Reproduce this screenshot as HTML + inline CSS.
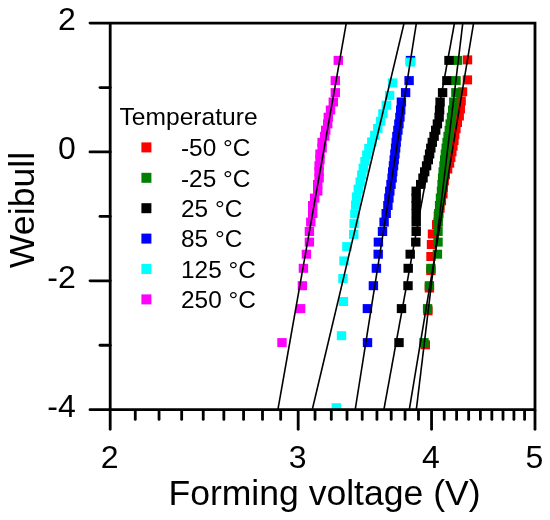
<!DOCTYPE html><html><head><meta charset="utf-8"><title>Weibull plot</title>
<style>html,body{margin:0;padding:0;background:#fff}svg{display:block}text{font-family:"Liberation Sans",sans-serif;fill:#000}</style></head><body>
<svg width="550" height="520" viewBox="0 0 550 520">
<rect width="550" height="520" fill="#fff"/>
<defs><clipPath id="c"><rect x="110.2" y="23.1" width="424.8" height="386.6"/></clipPath></defs>
<g clip-path="url(#c)" shape-rendering="auto">
<g fill="#ff0000">
<rect x="420.6" y="340.3" width="9.4" height="9.0"/>
<rect x="423.2" y="306.3" width="9.4" height="9.0"/>
<rect x="424.7" y="283.5" width="9.4" height="9.0"/>
<rect x="426.2" y="266.1" width="9.4" height="9.0"/>
<rect x="426.3" y="252.0" width="9.4" height="9.0"/>
<rect x="426.8" y="240.0" width="9.4" height="9.0"/>
<rect x="427.8" y="229.5" width="9.4" height="9.0"/>
<rect x="432.0" y="220.1" width="9.4" height="9.0"/>
<rect x="433.7" y="211.5" width="9.4" height="9.0"/>
<rect x="435.2" y="203.7" width="9.4" height="9.0"/>
<rect x="436.7" y="196.3" width="9.4" height="9.0"/>
<rect x="438.2" y="189.4" width="9.4" height="9.0"/>
<rect x="438.6" y="182.8" width="9.4" height="9.0"/>
<rect x="439.5" y="176.5" width="9.4" height="9.0"/>
<rect x="440.6" y="170.4" width="9.4" height="9.0"/>
<rect x="442.9" y="164.5" width="9.4" height="9.0"/>
<rect x="444.8" y="158.7" width="9.4" height="9.0"/>
<rect x="446.0" y="153.0" width="9.4" height="9.0"/>
<rect x="447.1" y="147.3" width="9.4" height="9.0"/>
<rect x="448.2" y="141.7" width="9.4" height="9.0"/>
<rect x="449.2" y="136.0" width="9.4" height="9.0"/>
<rect x="450.0" y="130.2" width="9.4" height="9.0"/>
<rect x="451.2" y="124.2" width="9.4" height="9.0"/>
<rect x="452.6" y="118.0" width="9.4" height="9.0"/>
<rect x="454.5" y="111.5" width="9.4" height="9.0"/>
<rect x="455.6" y="104.4" width="9.4" height="9.0"/>
<rect x="456.4" y="96.5" width="9.4" height="9.0"/>
<rect x="457.8" y="87.3" width="9.4" height="9.0"/>
<rect x="462.7" y="75.4" width="9.4" height="9.0"/>
<rect x="462.8" y="55.4" width="9.4" height="9.0"/>
</g>
<g fill="#008000">
<rect x="419.3" y="338.1" width="9.4" height="9.0"/>
<rect x="422.9" y="304.1" width="9.4" height="9.0"/>
<rect x="424.7" y="281.2" width="9.4" height="9.0"/>
<rect x="426.2" y="263.8" width="9.4" height="9.0"/>
<rect x="432.7" y="249.7" width="9.4" height="9.0"/>
<rect x="433.3" y="237.6" width="9.4" height="9.0"/>
<rect x="433.3" y="227.0" width="9.4" height="9.0"/>
<rect x="433.5" y="217.6" width="9.4" height="9.0"/>
<rect x="434.1" y="209.0" width="9.4" height="9.0"/>
<rect x="434.9" y="201.0" width="9.4" height="9.0"/>
<rect x="435.8" y="193.6" width="9.4" height="9.0"/>
<rect x="436.8" y="186.6" width="9.4" height="9.0"/>
<rect x="437.4" y="179.9" width="9.4" height="9.0"/>
<rect x="437.9" y="173.5" width="9.4" height="9.0"/>
<rect x="438.5" y="167.3" width="9.4" height="9.0"/>
<rect x="439.3" y="161.3" width="9.4" height="9.0"/>
<rect x="440.0" y="155.3" width="9.4" height="9.0"/>
<rect x="440.7" y="149.5" width="9.4" height="9.0"/>
<rect x="441.5" y="143.6" width="9.4" height="9.0"/>
<rect x="442.4" y="137.8" width="9.4" height="9.0"/>
<rect x="443.4" y="131.8" width="9.4" height="9.0"/>
<rect x="444.6" y="125.7" width="9.4" height="9.0"/>
<rect x="445.5" y="119.4" width="9.4" height="9.0"/>
<rect x="446.8" y="112.7" width="9.4" height="9.0"/>
<rect x="448.0" y="105.5" width="9.4" height="9.0"/>
<rect x="449.1" y="97.5" width="9.4" height="9.0"/>
<rect x="451.2" y="88.1" width="9.4" height="9.0"/>
<rect x="451.3" y="76.1" width="9.4" height="9.0"/>
<rect x="452.8" y="55.9" width="9.4" height="9.0"/>
</g>
<g fill="#000000">
<rect x="394.3" y="338.1" width="9.4" height="9.0"/>
<rect x="396.8" y="304.1" width="9.4" height="9.0"/>
<rect x="403.3" y="281.2" width="9.4" height="9.0"/>
<rect x="403.5" y="263.8" width="9.4" height="9.0"/>
<rect x="405.5" y="249.7" width="9.4" height="9.0"/>
<rect x="411.1" y="237.6" width="9.4" height="9.0"/>
<rect x="411.5" y="227.0" width="9.4" height="9.0"/>
<rect x="411.5" y="217.6" width="9.4" height="9.0"/>
<rect x="411.5" y="209.0" width="9.4" height="9.0"/>
<rect x="411.5" y="201.0" width="9.4" height="9.0"/>
<rect x="411.5" y="193.6" width="9.4" height="9.0"/>
<rect x="411.5" y="186.6" width="9.4" height="9.0"/>
<rect x="416.0" y="179.9" width="9.4" height="9.0"/>
<rect x="418.3" y="173.5" width="9.4" height="9.0"/>
<rect x="420.0" y="167.3" width="9.4" height="9.0"/>
<rect x="421.9" y="161.3" width="9.4" height="9.0"/>
<rect x="423.6" y="155.3" width="9.4" height="9.0"/>
<rect x="424.9" y="149.5" width="9.4" height="9.0"/>
<rect x="426.1" y="143.6" width="9.4" height="9.0"/>
<rect x="427.6" y="137.8" width="9.4" height="9.0"/>
<rect x="429.4" y="131.8" width="9.4" height="9.0"/>
<rect x="431.0" y="125.7" width="9.4" height="9.0"/>
<rect x="432.7" y="119.4" width="9.4" height="9.0"/>
<rect x="434.4" y="112.7" width="9.4" height="9.0"/>
<rect x="434.9" y="105.5" width="9.4" height="9.0"/>
<rect x="435.4" y="97.5" width="9.4" height="9.0"/>
<rect x="437.9" y="88.1" width="9.4" height="9.0"/>
<rect x="442.2" y="76.1" width="9.4" height="9.0"/>
<rect x="444.3" y="55.9" width="9.4" height="9.0"/>
</g>
<g fill="#0000ff">
<rect x="362.8" y="338.1" width="9.4" height="9.0"/>
<rect x="362.7" y="304.1" width="9.4" height="9.0"/>
<rect x="368.7" y="281.2" width="9.4" height="9.0"/>
<rect x="371.7" y="263.8" width="9.4" height="9.0"/>
<rect x="373.5" y="249.7" width="9.4" height="9.0"/>
<rect x="373.7" y="237.6" width="9.4" height="9.0"/>
<rect x="377.8" y="227.0" width="9.4" height="9.0"/>
<rect x="379.4" y="217.6" width="9.4" height="9.0"/>
<rect x="381.5" y="209.0" width="9.4" height="9.0"/>
<rect x="383.2" y="201.0" width="9.4" height="9.0"/>
<rect x="384.2" y="193.6" width="9.4" height="9.0"/>
<rect x="385.1" y="186.6" width="9.4" height="9.0"/>
<rect x="386.3" y="179.9" width="9.4" height="9.0"/>
<rect x="387.4" y="173.5" width="9.4" height="9.0"/>
<rect x="388.0" y="167.3" width="9.4" height="9.0"/>
<rect x="388.8" y="161.3" width="9.4" height="9.0"/>
<rect x="389.5" y="155.3" width="9.4" height="9.0"/>
<rect x="390.2" y="149.5" width="9.4" height="9.0"/>
<rect x="390.9" y="143.6" width="9.4" height="9.0"/>
<rect x="391.5" y="137.8" width="9.4" height="9.0"/>
<rect x="392.2" y="131.8" width="9.4" height="9.0"/>
<rect x="393.2" y="125.7" width="9.4" height="9.0"/>
<rect x="394.2" y="119.4" width="9.4" height="9.0"/>
<rect x="395.2" y="112.7" width="9.4" height="9.0"/>
<rect x="396.0" y="105.5" width="9.4" height="9.0"/>
<rect x="396.7" y="97.5" width="9.4" height="9.0"/>
<rect x="400.9" y="88.1" width="9.4" height="9.0"/>
<rect x="404.4" y="76.1" width="9.4" height="9.0"/>
<rect x="405.8" y="55.9" width="9.4" height="9.0"/>
</g>
<g fill="#00ffff">
<rect x="331.6" y="403.2" width="9.4" height="9.0"/>
<rect x="336.8" y="331.2" width="9.4" height="9.0"/>
<rect x="338.7" y="297.0" width="9.4" height="9.0"/>
<rect x="338.3" y="274.0" width="9.4" height="9.0"/>
<rect x="339.3" y="256.4" width="9.4" height="9.0"/>
<rect x="342.2" y="242.1" width="9.4" height="9.0"/>
<rect x="349.0" y="229.9" width="9.4" height="9.0"/>
<rect x="349.4" y="219.1" width="9.4" height="9.0"/>
<rect x="350.2" y="209.4" width="9.4" height="9.0"/>
<rect x="351.0" y="200.6" width="9.4" height="9.0"/>
<rect x="351.9" y="192.4" width="9.4" height="9.0"/>
<rect x="353.6" y="184.7" width="9.4" height="9.0"/>
<rect x="355.5" y="177.4" width="9.4" height="9.0"/>
<rect x="357.1" y="170.4" width="9.4" height="9.0"/>
<rect x="358.6" y="163.6" width="9.4" height="9.0"/>
<rect x="360.3" y="157.0" width="9.4" height="9.0"/>
<rect x="362.1" y="150.4" width="9.4" height="9.0"/>
<rect x="364.2" y="144.0" width="9.4" height="9.0"/>
<rect x="367.1" y="137.4" width="9.4" height="9.0"/>
<rect x="370.1" y="130.8" width="9.4" height="9.0"/>
<rect x="373.1" y="124.0" width="9.4" height="9.0"/>
<rect x="375.9" y="116.8" width="9.4" height="9.0"/>
<rect x="378.2" y="109.2" width="9.4" height="9.0"/>
<rect x="381.6" y="100.7" width="9.4" height="9.0"/>
<rect x="384.9" y="90.9" width="9.4" height="9.0"/>
<rect x="387.9" y="78.4" width="9.4" height="9.0"/>
<rect x="405.6" y="57.6" width="9.4" height="9.0"/>
</g>
<g fill="#ff00ff">
<rect x="277.3" y="338.1" width="9.4" height="9.0"/>
<rect x="295.9" y="304.1" width="9.4" height="9.0"/>
<rect x="297.7" y="281.2" width="9.4" height="9.0"/>
<rect x="298.7" y="263.8" width="9.4" height="9.0"/>
<rect x="301.7" y="249.7" width="9.4" height="9.0"/>
<rect x="304.7" y="237.6" width="9.4" height="9.0"/>
<rect x="304.7" y="227.0" width="9.4" height="9.0"/>
<rect x="306.1" y="217.6" width="9.4" height="9.0"/>
<rect x="308.0" y="209.0" width="9.4" height="9.0"/>
<rect x="308.0" y="201.0" width="9.4" height="9.0"/>
<rect x="310.0" y="193.6" width="9.4" height="9.0"/>
<rect x="313.0" y="186.6" width="9.4" height="9.0"/>
<rect x="313.0" y="179.9" width="9.4" height="9.0"/>
<rect x="314.4" y="173.5" width="9.4" height="9.0"/>
<rect x="314.4" y="167.3" width="9.4" height="9.0"/>
<rect x="314.4" y="161.3" width="9.4" height="9.0"/>
<rect x="315.3" y="155.3" width="9.4" height="9.0"/>
<rect x="315.3" y="149.5" width="9.4" height="9.0"/>
<rect x="317.4" y="143.6" width="9.4" height="9.0"/>
<rect x="317.4" y="137.8" width="9.4" height="9.0"/>
<rect x="320.0" y="131.8" width="9.4" height="9.0"/>
<rect x="321.0" y="125.7" width="9.4" height="9.0"/>
<rect x="323.0" y="119.4" width="9.4" height="9.0"/>
<rect x="323.6" y="112.7" width="9.4" height="9.0"/>
<rect x="325.8" y="105.5" width="9.4" height="9.0"/>
<rect x="328.6" y="97.5" width="9.4" height="9.0"/>
<rect x="330.6" y="88.1" width="9.4" height="9.0"/>
<rect x="330.6" y="76.1" width="9.4" height="9.0"/>
<rect x="333.6" y="55.9" width="9.4" height="9.0"/>
</g>
<g stroke="#000" stroke-width="1.6" fill="none">
<line x1="277.47" y1="412.0" x2="346.83" y2="20.0"/>
<line x1="311.69" y1="412.0" x2="404.81" y2="20.0"/>
<line x1="354.83" y1="412.0" x2="416.87" y2="20.0"/>
<line x1="383.45" y1="412.0" x2="455.05" y2="20.0"/>
<line x1="408.90" y1="412.0" x2="474.10" y2="20.0"/>
<line x1="416.04" y1="412.0" x2="463.16" y2="20.0"/>
</g></g>
<g stroke="#000" stroke-width="2.8" fill="none" stroke-linecap="round">
<path d="M90 23.1H535.0V409.7H90" stroke-linejoin="miter"/>
<path d="M110.2 24.1V429.3"/>
<path d="M90 151.97H110.2"/>
<path d="M90 280.83H110.2"/>
<path d="M100 87.53H110.2"/>
<path d="M100 216.40H110.2"/>
<path d="M100 345.27H110.2"/>
<path d="M298.18 410.7V429.3"/>
<path d="M431.55 410.7V429.3"/>
<path d="M535.00 410.7V429.3"/>
<path d="M135.27 410.7V419.4"/>
<path d="M159.05 410.7V419.4"/>
<path d="M181.67 410.7V419.4"/>
<path d="M203.23 410.7V419.4"/>
<path d="M223.84 410.7V419.4"/>
<path d="M243.57 410.7V419.4"/>
<path d="M262.50 410.7V419.4"/>
<path d="M280.68 410.7V419.4"/>
<path d="M315.04 410.7V419.4"/>
<path d="M331.31 410.7V419.4"/>
<path d="M347.02 410.7V419.4"/>
<path d="M362.22 410.7V419.4"/>
<path d="M376.94 410.7V419.4"/>
<path d="M391.21 410.7V419.4"/>
<path d="M405.05 410.7V419.4"/>
<path d="M418.49 410.7V419.4"/>
<path d="M444.25 410.7V419.4"/>
<path d="M456.61 410.7V419.4"/>
<path d="M468.66 410.7V419.4"/>
<path d="M480.39 410.7V419.4"/>
<path d="M491.84 410.7V419.4"/>
<path d="M503.01 410.7V419.4"/>
<path d="M513.92 410.7V419.4"/>
<path d="M524.58 410.7V419.4"/>
</g>
<g font-size="32">
<text x="75.8" y="30.0" text-anchor="end">2</text>
<text x="75.8" y="158.9" text-anchor="end">0</text>
<text x="75.8" y="287.7" text-anchor="end">-2</text>
<text x="75.8" y="416.6" text-anchor="end">-4</text>
<text x="109.7" y="468" text-anchor="middle">2</text>
<text x="297.7" y="468" text-anchor="middle">3</text>
<text x="431.0" y="468" text-anchor="middle">4</text>
<text x="534.5" y="468" text-anchor="middle">5</text>
</g>
<text x="324.5" y="504.9" font-size="35.55" text-anchor="middle">Forming voltage (V)</text>
<text transform="translate(33.7 210) rotate(-90)" font-size="35.7" text-anchor="middle">Weibull</text>
<g font-size="24.6">
<text x="119.5" y="125">Temperature</text>
<rect x="141.4" y="142.4" width="10" height="10" fill="#ff0000"/>
<text x="181" y="156.1" font-size="24.4">-50 °C</text>
<rect x="141.4" y="172.8" width="10" height="10" fill="#008000"/>
<text x="181" y="186.5" font-size="24.4">-25 °C</text>
<rect x="141.4" y="203.2" width="10" height="10" fill="#000000"/>
<text x="181" y="216.9" font-size="24.4">25 °C</text>
<rect x="141.4" y="233.6" width="10" height="10" fill="#0000ff"/>
<text x="181" y="247.3" font-size="24.4">85 °C</text>
<rect x="141.4" y="264.0" width="10" height="10" fill="#00ffff"/>
<text x="181" y="277.7" font-size="24.4">125 °C</text>
<rect x="141.4" y="294.4" width="10" height="10" fill="#ff00ff"/>
<text x="181" y="308.1" font-size="24.4">250 °C</text>
</g>
</svg></body></html>
